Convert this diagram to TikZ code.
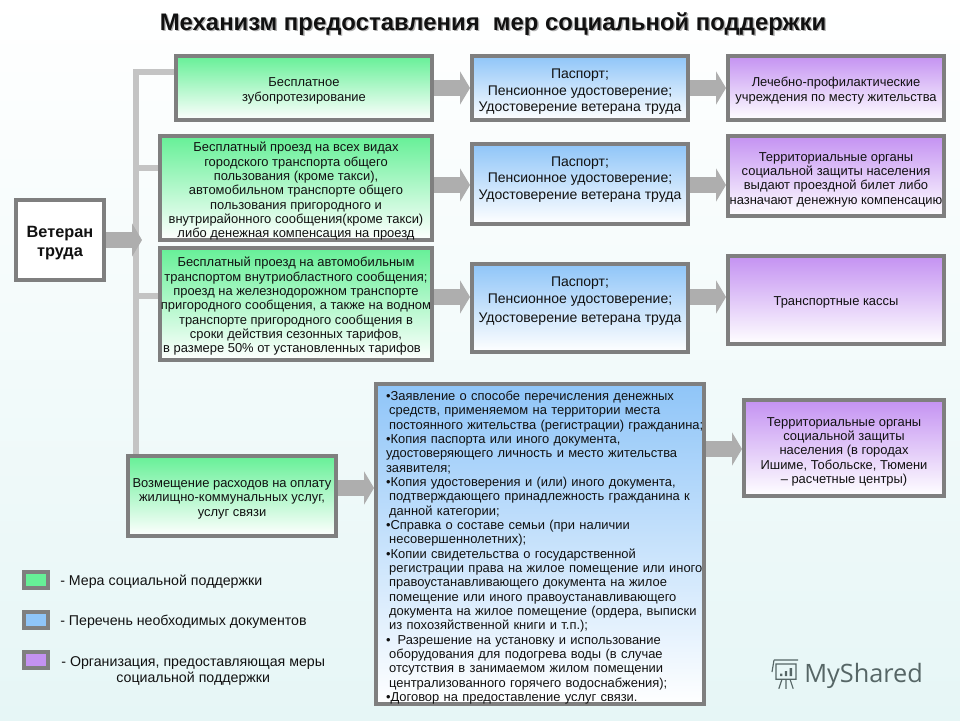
\documentclass[tikz,border=0pt]{standalone}
\usepackage{fontspec}
\setmainfont{Liberation Sans}
\newfontfamily\logofont{Open Sans}
\usetikzlibrary{positioning,arrows.meta,calc}
\definecolor{edgegray} {HTML}{7F7F7F}
\definecolor{busgray}  {HTML}{C4C4C4}
\definecolor{arrowgray}{HTML}{AEAEAE}
\definecolor{ink}      {HTML}{111111}
\definecolor{greentop} {HTML}{66F097}
\definecolor{bluetop}  {HTML}{8FC5F8}
\definecolor{violettop}{HTML}{C492F2}
\definecolor{pagelow}  {HTML}{E6F6F6}
\definecolor{logogray} {HTML}{566666}
\newcommand{\bodyfont}{\fontsize{9.2}{10.2}\selectfont}
\newcommand{\docfont}{\fontsize{9.95}{11.6}\selectfont}
\newcommand{\indl}{\hspace*{0.33cm}}
\newcommand{\bull}{\hspace*{0.25cm}\textbullet}
\newcommand{\lift}[1]{\rule{0pt}{#1}}
\tikzset{
  box/.style       = {draw=edgegray, line width=0.1cm, align=center, inner sep=0pt,
                      text=ink, font=\bodyfont, text depth=0pt},
  greenbox/.style  = {box, top color=greentop, bottom color=white},
  bluebox/.style   = {box, top color=bluetop, bottom color=white, font=\docfont},
  violetbox/.style = {box, top color=violettop, bottom color=white},
  bus/.style       = {draw=busgray, line width=0.15cm},
  flow/.style      = {-{Triangle[length=0.25cm,width=0.825cm]}, draw=arrowgray, line width=0.4cm},
  swatch/.style    = {draw=edgegray, line width=0.1cm, minimum width=0.6cm, minimum height=0.4cm,
                      inner sep=0pt},
  lbl/.style       = {font=\fontsize{10.1}{11.4}\selectfont, text=ink, align=center, inner sep=0pt},
  headline/.style  = {font=\bfseries\fontsize{17}{20}\selectfont, inner sep=0pt},
}
\begin{document}
\begin{tikzpicture}
  \fill[top color=white, bottom color=pagelow] (0,0) rectangle (24,18);

  \node[headline, text=black!30] (titleshadow) at (12.36,17.37)
    {Механизм предоставления\ \ мер социальной поддержки};
  \node[headline, text=ink] (title) at (12.325,17.4)
    {Механизм предоставления\ \ мер социальной поддержки};

  \node[box, fill=white, minimum width=2.2cm, minimum height=2.0cm,
        font=\bfseries\fontsize{11.6}{13.5}\selectfont] (vet) at (1.5,12.0) {\lift{10pt}Ветеран\\труда};

  % measures
  \node[greenbox, minimum width=6.4cm, minimum height=1.6cm] (g1) at (7.6,15.8)
    {\lift{8.5pt}Бесплатное\\зубопротезирование};
  \node[greenbox, minimum width=6.8cm, minimum height=2.6cm] (g2) at (7.4,13.3)
    {\lift{9.6pt}Бесплатный проезд на всех видах\\городского транспорта общего\\пользования (кроме такси),\\
     автомобильном транспорте общего\\пользования пригородного и\\
     внутрирайонного сообщения(кроме такси)\\либо денежная компенсация на проезд};
  \node[greenbox, minimum width=6.8cm, minimum height=2.8cm] (g3) at (7.4,10.4)
    {\lift{8.5pt}Бесплатный проезд на автомобильным\\транспортом внутриобластного сообщения;\\
     проезд на железнодорожном транспорте\\пригородного сообщения, а также на водном\\
     транспорте пригородного сообщения в\\сроки действия сезонных тарифов,\\
     \hspace*{-0.2cm}в размере 50\% от установленных тарифов};
  \node[greenbox, minimum width=5.2cm, minimum height=2.0cm] (g4) at (5.8,5.6)
    {\lift{8.5pt}Возмещение расходов на оплату\\жилищно-коммунальных  услуг,\\услуг связи};

  % documents
  \node[bluebox, minimum width=5.4cm, minimum height=1.6cm] (b1) at (14.5,15.8)
    {\lift{10pt}Паспорт;\\Пенсионное удостоверение;\\Удостоверение ветерана труда};
  \node[bluebox, minimum width=5.4cm, minimum height=2.0cm, text depth=0.3cm] (b2) at (14.5,13.4)
    {Паспорт;\\Пенсионное удостоверение;\\Удостоверение ветерана труда};
  \node[bluebox, minimum width=5.4cm, minimum height=2.2cm, text depth=0.42cm] (b3) at (14.5,10.3)
    {Паспорт;\\Пенсионное удостоверение;\\[0.07cm]Удостоверение ветерана труда};
  \node[box, text depth={}, top color=bluetop, bottom color=white, minimum width=8.2cm, minimum height=8.0cm,
        text width=8.2cm, align=left] (b4) at (13.5,4.4)
    {\lift{12pt}\bull Заявление о способе перечисления денежных\\
     \indl средств, применяемом на территории места\\
     \indl постоянного жительства (регистрации) гражданина;\\
     \bull Копия паспорта или иного документа,\\
     \hspace*{0.25cm}удостоверяющего личность и место жительства\\
     \hspace*{0.25cm}заявителя;\\
     \bull Копия удостоверения  и (или) иного документа,\\
     \indl подтверждающего принадлежность гражданина к\\
     \indl данной категории;\\
     \bull Справка о составе семьи (при наличии\\
     \indl несовершеннолетних);\\
     \bull Копии свидетельства о государственной\\
     \indl регистрации права на жилое помещение или иного\\
     \indl правоустанавливающего документа на жилое\\
     \indl помещение или иного правоустанавливающего\\
     \indl документа на жилое помещение (ордера, выписки\\
     \indl из похозяйственной книги и т.п.);\\
     \bull\hspace{0.18cm}Разрешение на установку и использование\\
     \indl оборудования для подогрева воды (в случае\\
     \indl отсутствия в занимаемом жилом помещении\\
     \indl централизованного горячего водоснабжения);\\
     \bull Договор на предоставление услуг связи.};

  % organisations
  \node[violetbox, minimum width=5.4cm, minimum height=1.6cm] (p1) at (20.9,15.8)
    {\lift{8.5pt}Лечебно-профилактические\\учреждения по месту жительства};
  \node[violetbox, minimum width=5.4cm, minimum height=2.0cm] (p2) at (20.9,13.6)
    {\lift{9.6pt}Территориальные органы\\социальной защиты населения\\выдают проездной билет либо\\назначают денежную компенсацию};
  \node[violetbox, minimum width=5.4cm, minimum height=2.2cm] (p3) at (20.9,10.5)
    {\lift{8.5pt}Транспортные кассы};
  \node[violetbox, minimum width=5.0cm, minimum height=2.4cm] (p4) at (21.1,6.8)
    {\lift{9.6pt}Территориальные органы\\социальной защиты\\населения (в городах\\Ишиме, Тобольске, Тюмени\\–  расчетные центры)};

  % bus from the veteran box
  \coordinate (bustop) at (3.4,16.2);
  \coordinate (bus2) at (3.4,13.8);
  \coordinate (bus3) at (3.4,10.6);
  \coordinate (vetin) at (3.55,12.0);
  \draw[bus] (g1.west |- bustop) -- (bustop) -- (bustop |- g4.north);
  \draw[bus] (bus2) -- (g2.west |- bus2);
  \draw[bus] (bus3) -- (g3.west |- bus3);
  \draw[flow] (vet.east) -- (vetin);

  \coordinate (row1) at (0,15.8);
  \coordinate (row2) at (0,13.375);
  \coordinate (row3) at (0,10.575);
  \coordinate (row4) at (0,5.8);
  \coordinate (row5) at (0,6.775);
  \draw[flow] (g1.east |- row1) -- (b1.west |- row1);
  \draw[flow] (b1.east |- row1) -- (p1.west |- row1);
  \draw[flow] (g2.east |- row2) -- (b2.west |- row2);
  \draw[flow] (b2.east |- row2) -- (p2.west |- row2);
  \draw[flow] (g3.east |- row3) -- (b3.west |- row3);
  \draw[flow] (b3.east |- row3) -- (p3.west |- row3);
  \draw[flow] (g4.east |- row4) -- (b4.west |- row4);
  \draw[flow] (b4.east |- row5) -- (p4.west |- row5);

  % legend
  \node[swatch, fill=greentop] (keyg) at (0.9,3.5) {};
  \node[swatch, fill=bluetop] (keyb) at (0.9,2.5) {};
  \node[swatch, fill=violettop] (keyv) at (0.9,1.5) {};
  \node[lbl, anchor=west] (keygtxt) at (1.5,3.45) {- Мера социальной  поддержки};
  \node[lbl, anchor=west] (keybtxt) at (1.5,2.45) {- Перечень необходимых  документов};
  \node[lbl] (keyvtxt) at (4.83,1.23) {- Организация, предоставляющая  меры\\социальной  поддержки};

  % watermark
  \node[font=\logofont\fontsize{18}{20}\selectfont, text=logogray, anchor=west, inner sep=0pt] (logo) at (20.1,1.1) {MyShared};
  \draw[logogray, line width=0.8pt] (19.35,1.5) -- (19.95,1.5) (19.35,1.5) -- (19.3,1.2) (19.4,1.4) rectangle (19.9,1.02)
    (19.55,1.02) -- (19.47,0.78) (19.65,1.02) -- (19.65,0.78) (19.75,1.02) -- (19.83,0.78);
  \fill[logogray] (19.5,1.1) rectangle +(0.06,0.06) (19.62,1.1) rectangle +(0.06,0.12) (19.74,1.1) rectangle +(0.06,0.2);
\end{tikzpicture}
\end{document}
